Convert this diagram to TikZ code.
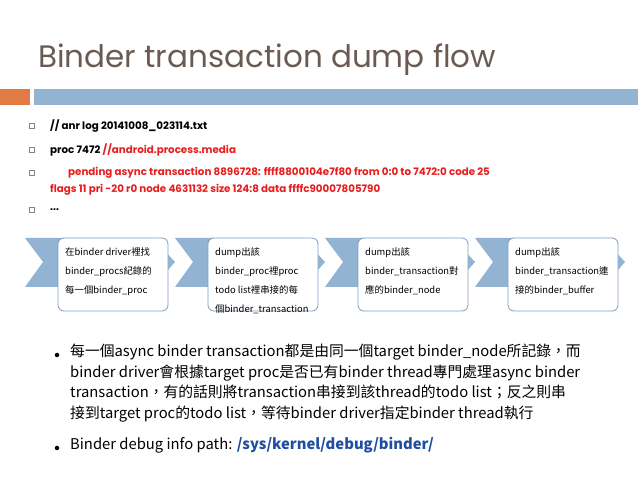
\documentclass[tikz,border=0pt]{standalone}
\usepackage{fontspec}
\setmainfont{Carlito}
\newfontfamily\gothic{Poppins}
\newfontfamily\cjk{Noto Sans CJK TC}
\definecolor{brn}{HTML}{6B5A52}
\definecolor{org}{HTML}{E07B45}
\definecolor{blu}{HTML}{93B3D3}
\definecolor{bdr}{HTML}{7F9FBF}
\definecolor{red1}{HTML}{E81E1E}
\definecolor{lnk}{HTML}{1F4E9F}
\begin{document}
\begin{tikzpicture}[x=1pt,y=-1pt,
  chev/.style={fill=blu,draw=none},
  sbox/.style={draw=bdr,fill=white,rounded corners=6pt,line width=0.8pt},
  btxt/.style={anchor=north west,align=left,font=\cjk\fontsize{9.4}{19}\selectfont,inner sep=0pt},
  sq/.style={draw=gray!80!org,line width=0.5pt,minimum size=5pt,inner sep=0pt},
  top/.style={anchor=west,inner sep=0pt,font=\gothic\bfseries\fontsize{10.3}{12}\selectfont},
  bot/.style={anchor=north west,align=left,inner sep=0pt,font=\cjk\fontsize{14.8}{20.5}\selectfont},
  dot/.style={circle,fill=black,inner sep=0pt,minimum size=4.5pt}]
\useasboundingbox (0,0) rectangle (638,478);
\node[anchor=west,inner sep=0pt,text=brn,font=\gothic\fontsize{31}{34}\selectfont] (title) at (38,60) {Binder transaction dump flow};
\fill[org] (0,89) rectangle (30,105);
\fill[blu] (34,89) rectangle (638,105);
\foreach \i/\y in {1/126,2/150,3/173,4/210}{\node[sq] (s\i) at (32,\y) {};}
\node[top] (t1) at (50,126) {// anr log 20141008\_023114.txt};
\node[top] (t2) at (50,150) {proc 7472 \textcolor{red1}{//android.process.media}};
\node[top,text=red1] (t3) at (68,173) {pending async transaction 8896728: ffff8800104e7f80 from 0:0 to 7472:0 code 25};
\node[top,text=red1] (t3b) at (50,190) {flags 11 pri -20 r0 node 4631132 size 124:8 data ffffc90007805790};
\node[top] (t4) at (50,210) {...};
\foreach \i/\x in {1/25,2/175,3/325,4/475}{
  \fill[chev] (\x,238) -- (\x+128,238) -- (\x+150,262) -- (\x+128,287) -- (\x,287) -- (\x+18,262) -- cycle;
  \draw[sbox] (\x+33,238) rectangle (\x+143,311);
}
\node[btxt] (b1) at (65,247) {在binder driver裡找\\binder\_procs紀錄的\\每一個binder\_proc};
\node[btxt] (b2) at (215,247) {dump出該\\binder\_proc裡proc\\todo list裡串接的每\\個binder\_transaction};
\node[btxt] (b3) at (365,247) {dump出該\\binder\_transaction對\\應的binder\_node};
\node[btxt] (b4) at (515,247) {dump出該\\binder\_transaction連\\接的binder\_buffer};
\node[dot] (d1) at (57,355) {};
\node[bot] (p1) at (70,344) {每一個async binder transaction都是由同一個target binder\_node所記錄，而\\binder driver會根據target proc是否已有binder thread專門處理async binder\\transaction，有的話則將transaction串接到該thread的todo list；反之則串\\接到target proc的todo list，等待binder driver指定binder thread執行};
\node[dot] (d2) at (57,448) {};
\node[bot] (p2) at (70,437) {Binder debug info path: \textcolor{lnk}{\bfseries /sys/kernel/debug/binder/}};
\end{tikzpicture}
\end{document}
